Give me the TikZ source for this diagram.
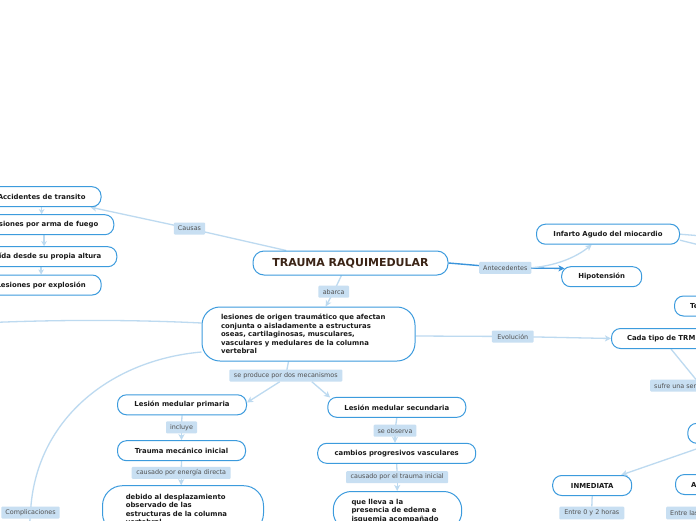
\documentclass[tikz,border=0pt]{standalone}
\usepackage{fontspec}
\setmainfont{DejaVu Sans}
\usetikzlibrary{arrows.meta,calc,backgrounds}
\definecolor{nodeborder}{HTML}{3C9BDD}
\definecolor{cnxcol}{HTML}{BDDAF0}
\definecolor{cnxhi}{HTML}{3A94DB}
\definecolor{labfill}{HTML}{C8DFF2}
\definecolor{labtext}{HTML}{505050}
\definecolor{nodetext}{HTML}{1A1A1A}
\definecolor{titletext}{HTML}{3B2416}
\tikzset{
  topic/.style={draw=nodeborder, line width=1pt, fill=white, rounded corners=9pt,
    minimum height=20pt, inner ysep=0pt, inner xsep=15.5pt, text=nodetext,
    font=\fontsize{6.9}{8.6}\selectfont\bfseries},
  bigtopic/.style={topic, rounded corners=18pt, align=left},
  titlenode/.style={draw=nodeborder, line width=1pt, fill=white, rounded corners=11pt,
    minimum width=195pt, minimum height=24pt, text=titletext,
    font=\fontsize{11}{13}\selectfont\bfseries},
  lab/.style={fill=labfill, rounded corners=1pt, minimum height=12pt, inner xsep=4pt,
    inner ysep=0pt, text=labtext, font=\fontsize{6.4}{7.5}\selectfont},
  cnx/.style={draw=cnxcol, line width=1.3pt},
  cnxarrow/.style={cnx, -{Stealth[length=6pt,width=6pt,inset=1.5pt]}},
  cnxsmall/.style={cnx, -{Stealth[length=5pt,width=5.5pt,inset=1.2pt]}},
  hicnx/.style={draw=cnxhi, line width=1.4pt},
  hicnxarrow/.style={hicnx, -{Stealth[length=6pt,width=6pt,inset=1.5pt]}},
}
\begin{document}
\begin{tikzpicture}[x=1pt,y=-1pt]
\useasboundingbox (0,0) rectangle (696,520);
\clip (0,0) rectangle (696,520);

% ---------- topics ----------
\node[titlenode] (trauma) at (350.5,263) {TRAUMA RAQUIMEDULAR};

\node[topic, anchor=east] (acc) at (101.5,196.7) {Accidentes de transito};
\node[topic, anchor=east] (arma) at (114.3,224.7) {Lesiones por arma de fuego};
\node[topic, anchor=east] (caida) at (117.3,256.7) {Caída desde su propia altura};
\node[topic, anchor=east] (explo) at (101.7,285) {Lesiones por explosión};

\node[bigtopic, text width=175pt, inner xsep=19pt, minimum height=54pt] (les) at (308.5,334)
  {lesiones de origen traumático que afectan\\conjunta o aisladamente a estructuras\\oseas, cartilaginosas, musculares,\\vasculares y medulares de la columna\\vertebral};

\node[topic, minimum width=143pt] (infarto) at (608,234.2) {Infarto Agudo del miocardio};
\node[topic, minimum width=80pt] (hipo) at (601.7,276.7) {Hipotensión};
\node[topic, anchor=west] (te) at (674,306) {Te};
\node[topic, anchor=west] (cada) at (611,338.5) {Cada tipo de TRM};
\node[topic, anchor=west, minimum width=80pt] (fase) at (687.3,433.3) {};
\node[topic, minimum width=79pt] (inm) at (592.2,485.5) {INMEDIATA};
\node[topic, anchor=west] (aguda) at (675,484.5) {A};

\node[topic, minimum width=129pt] (prim) at (182,404.8) {Lesión medular primaria};
\node[topic, minimum width=128pt] (tmec) at (181.5,450.7) {Trauma mecánico inicial};
\node[bigtopic, rounded corners=20pt, text width=114.4pt, inner xsep=23.3pt, minimum height=47.6pt] (debido) at (183,509.5)
  {debido al desplazamiento\\observado de las\\estructuras de la columna\\vertebral};

\node[topic, minimum width=138pt] (sec) at (396.8,407.3) {Lesión medular secundaria};
\node[topic, minimum width=158pt] (cambios) at (396.7,453.3) {cambios progresivos vasculares};
\node[bigtopic, anchor=north, text width=92pt, inner xsep=18.2pt, inner ysep=7.3pt] (quel) at (397.5,491)
  {que lleva a la\\presencia de edema e\\isquemia acompañado};

% ---------- labels ----------
\node[lab, minimum width=31pt] (causas) at (189.5,228.5) {Causas};
\node[lab, minimum width=30.7pt] (abarca) at (333.7,291.7) {abarca};
\node[lab, minimum width=52pt] (antec) at (505.3,267.8) {Antecedentes};
\node[lab, minimum width=113pt] (seprod) at (285.8,375.5) {se produce por dos mecanismos};
\node[lab, minimum width=41.7pt] (evol) at (512.8,336.5) {Evolución};
\node[lab, anchor=west] (sufre) at (650,385.7) {sufre una serie};
\node[lab, minimum width=31pt] (incluye) at (181.5,427.3) {incluye};
\node[lab, minimum width=99pt] (causdir) at (181.2,472.8) {causado por energía directa};
\node[lab, minimum width=40pt] (seobs) at (395,430.7) {se observa};
\node[lab, minimum width=102pt] (caustr) at (397.2,477.2) {causado por el trauma inicial};
\node[lab, minimum width=65pt, minimum height=12.6pt] (entre0) at (591.8,513) {Entre 0 y 2 horas};
\node[lab, anchor=west, minimum height=12.6pt] (entrela) at (666,513) {Entre las};
\node[lab, minimum width=57.7pt] (compl) at (30.5,512.5) {Complicaciones};

% ---------- connectors ----------
\begin{scope}[on background layer]
\clip (0,0) rectangle (696,520);
\fill[white] (0,0) rectangle (696,520);
\coordinate (offL) at (-30,323.5);
\coordinate (offC) at (28,545);
\coordinate (offA) at (740,239);
\coordinate (offB) at (740,255);

% Causas
\draw[cnx] (trauma.169) -- (causas.center);
\draw[cnxarrow] (causas.center) -- ([xshift=-11pt]acc.south east);
\draw[cnxsmall] (acc.south) -- (acc.south |- arma.north);
\draw[cnxsmall] (arma.south) -- (arma.south |- caida.north);
\draw[cnxsmall] (caida.south -| explo.north) -- (explo.north);

% abarca
\draw[cnx] (trauma.234) -- (abarca.center);
\draw[cnxarrow] (abarca.center) -- (les.58);

% Antecedentes
\draw[hicnx] (trauma.east) -- (antec.center);
\draw[hicnxarrow] (antec.center) -- ([shift={(3.3,-8.3)}]hipo.west);
\draw[cnxarrow] (antec.east) .. controls (562,265) and (580,254) .. ([xshift=-16.3pt]infarto.south);
\draw[cnx] (infarto.east) -- (offA);
\draw[cnx] ([yshift=-6pt]infarto.east) -- (offB);

% Evolucion
\draw[cnx] ([yshift=-2pt]les.east) -- (evol.center);
\draw[cnxarrow] (evol.center) -- (cada.west);
\draw[cnx] ([xshift=60pt]cada.south west) -- ([xshift=46pt]sufre.north west);
\draw[cnxarrow] ([xshift=24pt]fase.south west) -- ([xshift=69pt]inm.north west);
\draw[cnx] (inm.south) -- (entre0.north);

% mecanismos
\draw[cnx] ([xshift=-20pt]les.south) -- (seprod.center);
\draw[cnxarrow] ([xshift=-6pt]seprod.south) -- ([yshift=2.3pt]prim.east);
\draw[cnxarrow] ([xshift=26pt]seprod.south) -- ([shift={(2.8,-9.8)}]sec.west);

\draw[cnx] (prim.south) -- (incluye.center);
\draw[cnxarrow] (incluye.center) -- (tmec.north);
\draw[cnx] (tmec.south) -- (causdir.center);
\draw[cnxarrow] (causdir.center) -- (causdir.center |- debido.north);

\draw[cnx] (sec.south) -- (seobs.center);
\draw[cnxarrow] (seobs.center) -- (seobs.center |- cambios.north);
\draw[cnx] (cambios.south) -- (caustr.center);
\draw[cnxarrow] (caustr.center) -- (caustr.center |- quel.north);

% left curves
\draw[cnx] ([yshift=11pt]les.west) .. controls (130,319.5) and (50,319.5) .. (offL);
\draw[cnx] ([yshift=-18pt]les.west) .. controls (110,360) and (35,420) .. (compl.center);
\draw[cnx] (compl.center) -- (offC);
\end{scope}
\end{tikzpicture}
\end{document}
